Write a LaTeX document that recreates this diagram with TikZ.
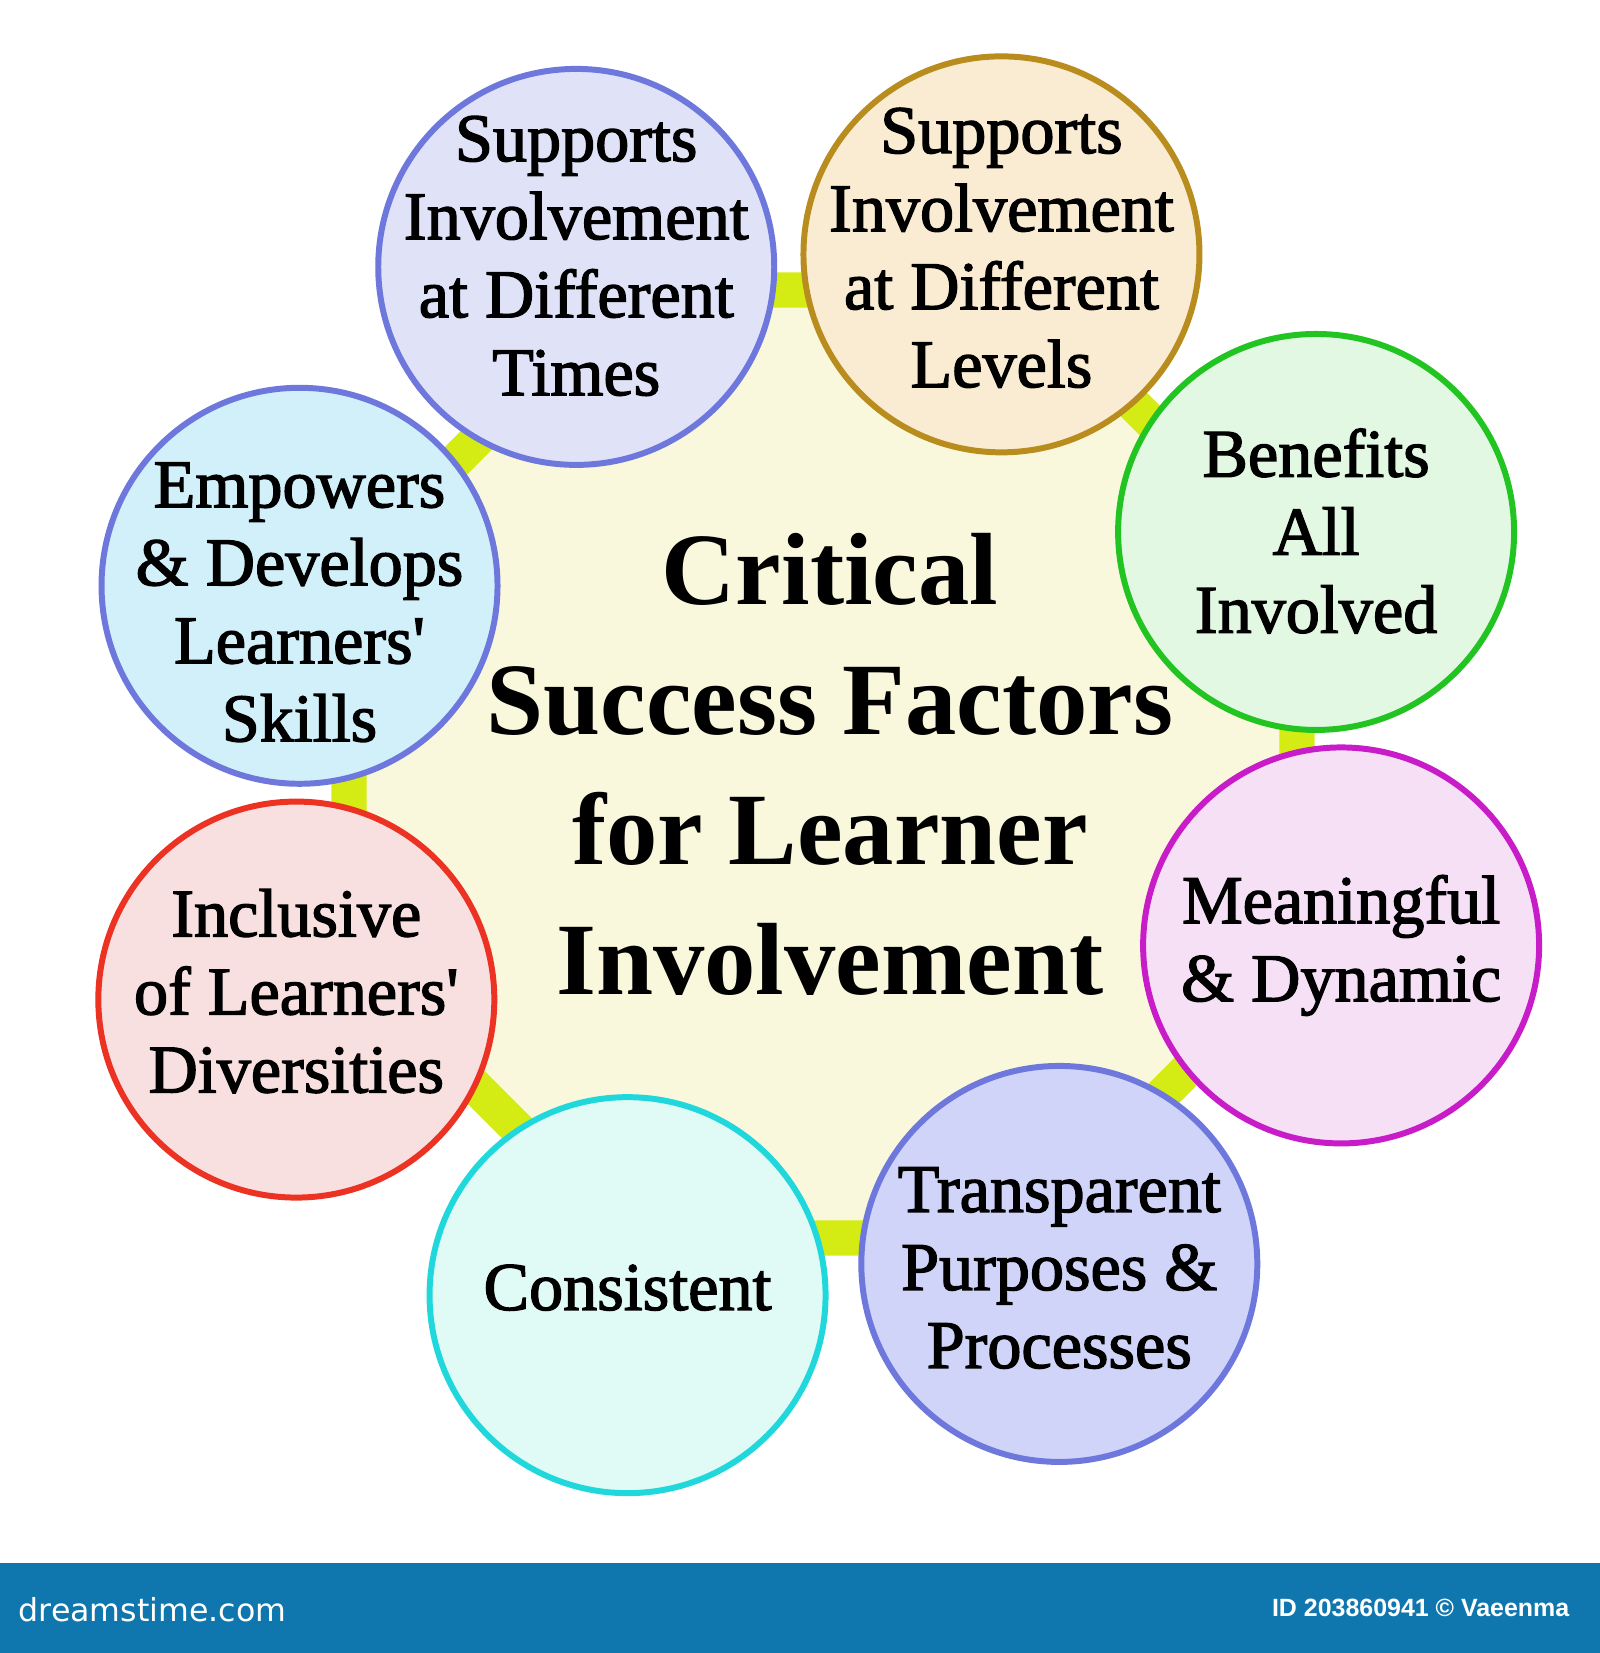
\documentclass[tikz,border=0pt]{standalone}
\usepackage{fontspec}
\setmainfont{Liberation Serif}
\newfontfamily\factorfont{Liberation Serif}[BoldFont={Liberation Serif},BoldFeatures={FakeBold=2}]
\newfontfamily\markfont{DejaVu Sans}
\newfontfamily\idfont{Liberation Sans}
\usepackage{tikz}
\usetikzlibrary{calc}
\usetikzlibrary{positioning}
\usetikzlibrary{shapes.geometric}
\definecolor{hubfill}{RGB}{250,248,220}
\definecolor{ringgreen}{RGB}{212,236,20}
\definecolor{barblue}{RGB}{15,119,174}
\definecolor{violetline}{RGB}{110,120,220}
\definecolor{timesfill}{RGB}{224,226,248}
\definecolor{levelsline}{RGB}{185,140,30}
\definecolor{levelsfill}{RGB}{250,235,211}
\definecolor{benefitsline}{RGB}{34,196,34}
\definecolor{benefitsfill}{RGB}{227,248,227}
\definecolor{meaningline}{RGB}{200,28,200}
\definecolor{meaningfill}{RGB}{246,224,246}
\definecolor{transpfill}{RGB}{208,212,248}
\definecolor{consistline}{RGB}{32,216,220}
\definecolor{consistfill}{RGB}{224,250,246}
\definecolor{inclusline}{RGB}{235,50,35}
\definecolor{inclusfill}{RGB}{248,224,224}
\definecolor{empowfill}{RGB}{210,240,250}
\tikzstyle{hub} = [draw=ringgreen, fill=hubfill, regular polygon, regular polygon sides=8, minimum size=10.26cm, inner sep=0pt, line width=10pt]
\tikzstyle{title} = [inner sep=0pt, align=center, font=\bfseries\fontsize{29.2}{37}\selectfont]
\tikzstyle{factor} = [draw, circle, line width=1.7pt, minimum size=3.96cm, inner sep=0pt]
\tikzstyle{factortext} = [inner sep=0pt, align=center, font=\factorfont\bfseries\fontsize{19.4}{22.2}\selectfont]

\begin{document}
\begin{tikzpicture}
                        \fill[white] (0,0) rectangle (16,16.53);
                        \useasboundingbox (0,0) rectangle (16,16.53);

                        \node[hub](hub) at (8.23,8.89) {};
                        \node[title,xshift=0.07cm](titletext) at (hub) {Critical\\Success Factors\\for Learner\\Involvement};

                        \node[factor, draw=violetline, fill=timesfill](times) at ($(hub)+(116.4:5.55)$) {};
                        \node[factor, draw=levelsline, fill=levelsfill](levels) at ($(hub)+(70.7:5.40)$) {};
                        \node[factor, draw=benefitsline, fill=benefitsfill](benefits) at ($(hub)+(25.2:5.45)$) {};
                        \node[factor, draw=meaningline, fill=meaningfill](meaning) at ($(hub)+(-19.3:5.49)$) {};
                        \node[factor, draw=violetline, fill=transpfill](transp) at ($(hub)+(-64.7:5.53)$) {};
                        \node[factor, draw=consistline, fill=consistfill](consist) at ($(hub)+(-110.2:5.66)$) {};
                        \node[factor, draw=inclusline, fill=inclusfill](inclus) at ($(hub)+(204.1:5.77)$) {};
                        \node[factor, draw=violetline, fill=empowfill](empow) at ($(hub)+(161.2:5.53)$) {};

                        \node[factortext,yshift=0.11cm](timestext) at (times) {Supports\\Involvement\\at Different\\Times};
                        \node[factortext,yshift=0.065cm](levelstext) at (levels) {Supports\\Involvement\\at Different\\Levels};
                        \node[factortext,yshift=0.01cm](benefitstext) at (benefits) {Benefits\\All\\Involved};
                        \node[factortext](meaningtext) at (meaning) {Meaningful\\\& Dynamic};
                        \node[factortext,yshift=-0.04cm](transptext) at (transp) {Transparent\\Purposes \&\\Processes};
                        \node[factortext,yshift=0.075cm](consisttext) at (consist) {Consistent};
                        \node[factortext,yshift=0.085cm](inclustext) at (inclus) {Inclusive\\of Learners'\\Diversities};
                        \node[factortext,yshift=-0.165cm](empowtext) at (empow) {Empowers\\\& Develops\\Learners'\\Skills};

                        \fill[barblue] (0,0) rectangle (16,0.90);
                        \node[anchor=west, inner sep=0pt, text=white, font=\markfont\fontsize{9}{9}\selectfont](site) at (0.18,0.43) {dreamstime.com};
                        \node[anchor=east, inner sep=0pt, text=white, font=\idfont\bfseries\fontsize{7.1}{7.1}\selectfont](imageid) at (15.70,0.45) {ID 203860941 © Vaeenma};
                    \end{tikzpicture}
\end{document}
